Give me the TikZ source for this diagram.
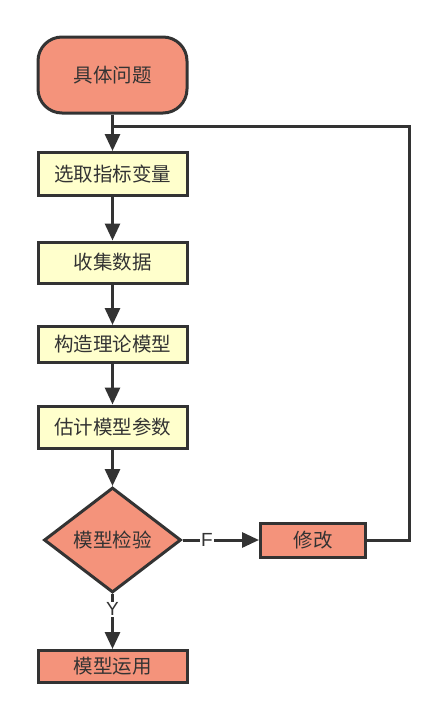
\documentclass[tikz,border=0pt]{standalone}
\usepackage{fontspec}
\setmainfont{Noto Sans CJK SC}
\newfontfamily\labfont{Liberation Sans}
\usetikzlibrary{shapes.geometric,arrows.meta}
\definecolor{salmon}{HTML}{F4937B}
\definecolor{paleyellow}{HTML}{FFFFCC}
\definecolor{ink}{HTML}{333333}
\tikzset{
  base/.style={draw=ink, line width=3pt, text=ink, font=\fontsize{19.5}{22}\selectfont, inner sep=0pt},
  term/.style={base, fill=salmon, rounded corners=24pt, minimum width=149pt, minimum height=76pt},
  procbox/.style={base, fill=paleyellow, minimum width=149pt, minimum height=42pt},
  redbox/.style={base, fill=salmon, minimum width=149pt, minimum height=32pt},
  decision/.style={base, fill=salmon, diamond, aspect=1.3, minimum width=137pt, minimum height=105pt},
  conn/.style={draw=ink, line width=3pt, -{Triangle[length=17pt,width=15pt]}},
  plain/.style={draw=ink, line width=3pt},
  lab/.style={fill=white, text=ink, font=\labfont\fontsize{19}{22}\selectfont, inner sep=1pt}
}
\begin{document}
\begin{tikzpicture}[x=1pt,y=-1pt]
\useasboundingbox[fill=white] (0,0) rectangle (447,720);
\node[term] (n0) at (112.5,75) {具体问题};
\node[procbox, minimum height=43pt] (n1) at (112.5,174) {选取指标变量};
\node[procbox, minimum height=41pt] (n2) at (112.5,262.5) {收集数据};
\node[procbox, minimum height=36pt] (n3) at (112.5,344.5) {构造理论模型};
\node[procbox, minimum height=42pt] (n4) at (112.5,427) {估计模型参数};
\node[decision] (d) at (112.5,540) {模型检验};
\node[redbox, minimum width=105pt, minimum height=34pt] (fix) at (313,540) {修改};
\node[redbox] (use) at (112.5,666.5) {模型运用};
\coordinate (r1) at (409,540);
\coordinate (r2) at (409,126);
\coordinate (r3) at (112.5,126);
\draw[conn] (n0) -- (n1);
\draw[conn] (n1) -- (n2);
\draw[conn] (n2) -- (n3);
\draw[conn] (n3) -- (n4);
\draw[conn] (n4) -- (d);
\draw[conn] (d) -- node[lab, pos=0.32] (F) {F} (fix);
\draw[conn] (d) -- node[lab, pos=0.28] (Y) {Y} (use);
\draw[plain] (fix.east) -- (r1) -- (r2) -- (r3);
\end{tikzpicture}
\end{document}
